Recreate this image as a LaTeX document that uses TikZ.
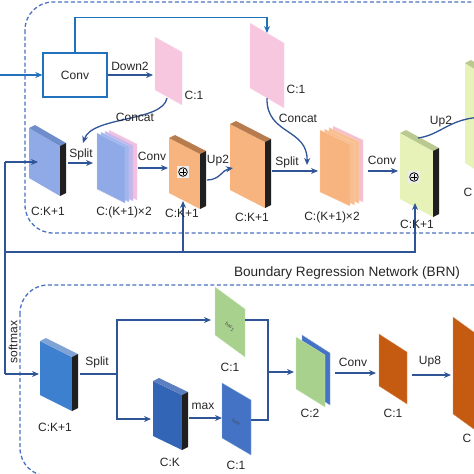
\documentclass[tikz,border=0pt]{standalone}
\usepackage{fontspec}
\setmainfont{Liberation Sans}
\usetikzlibrary{arrows.meta}
\definecolor{ln}{HTML}{2F5597}
\definecolor{cy}{HTML}{2172BA}
\definecolor{dsh}{HTML}{4A72C0}
\definecolor{bluA}{HTML}{8FAAE6}
\definecolor{bluAt}{HTML}{6F8CCB}
\definecolor{bluL}{HTML}{A3B5EE}
\definecolor{lav}{HTML}{C8B5EA}
\definecolor{pk}{HTML}{F1C0E0}
\definecolor{pink}{HTML}{F7C6DF}
\definecolor{orA}{HTML}{F8B47F}
\definecolor{orAt}{HTML}{B87B4E}
\definecolor{orB}{HTML}{F9BE90}
\definecolor{pk2}{HTML}{F4BFCF}
\definecolor{grL}{HTML}{E6F2B8}
\definecolor{grLt}{HTML}{B9C98F}
\definecolor{bbA}{HTML}{3D80D0}
\definecolor{bbAt}{HTML}{7FA3D4}
\definecolor{bbB}{HTML}{3265B5}
\definecolor{bbBt}{HTML}{5B7FC0}
\definecolor{grM}{HTML}{A9D18E}
\definecolor{blM}{HTML}{4472C4}
\definecolor{orD}{HTML}{C55A11}
% slab: name x y w h s front top
\newcommand\slabshape[8]{%
  \fill[#7] (#2,#3) -- ++(#4,#6) -- ++(0,#5) -- ++(-#4,-#6) -- cycle;
  \fill[#8] (#2,#3) -- ++(#4,#6) -- ++(6,-3) -- ++(-#4,-#6) -- cycle;
  \fill[black!88] (#2+#4,#3+#6) -- ++(6,-3) -- ++(0,#5) -- ++(-6,3) -- cycle;
  \coordinate (#1) at (#2+#4/2,#3+#5/2+#6/2);
}
% sheet: name x y w h s colour
\newcommand\sheetshape[7]{%
  \filldraw[fill=#7, draw=white!40!#7, line width=0.3pt] (#2,#3) -- ++(#4,#6) -- ++(0,#5) -- ++(-#4,-#6) -- cycle;
  \coordinate (#1) at (#2+#4/2,#3+#5/2+#6/2);
}
% plus sign: name x y
\newcommand\plussign[3]{%
  \node[fill=white!85!gray, minimum size=12pt, inner sep=0] (#1) at (#2,#3) {};
  \draw[black, line width=0.8pt] (#1) circle[radius=4.3pt];
  \draw[black, line width=0.8pt] (#1.center) ++(-2.6,0) -- ++(5.2,0);
  \draw[black, line width=0.8pt] (#1.center) ++(0,-2.6) -- ++(0,5.2);
}
\begin{document}
\begin{tikzpicture}[x=1pt,y=-1pt,
  arr/.style={ln, line width=1.3pt, -{Stealth[length=7pt,width=6pt]}},
  arrc/.style={cy, line width=1.3pt, -{Stealth[length=7pt,width=6pt]}},
  wire/.style={ln, line width=1.3pt},
  dbox/.style={dsh, line width=1.3pt, dash pattern=on 4pt off 2.5pt, rounded corners=28pt},
  lab/.style={inner sep=0.5pt, font=\fontsize{12}{14}\selectfont, text=black!85},
  tinylab/.style={inner sep=0pt, font=\fontsize{5}{6}\selectfont, text=black!70}]
\useasboundingbox (0,0) rectangle (474,474);
\begin{scope}
\clip (0,0) rectangle (474,474);
% dashed frames
\draw[dbox] (25,2) rectangle (540,233);
\draw[dbox] (20,285) rectangle (540,476);
% ---------- top part ----------
\sheetshape{p1}{155}{37}{27}{53}{15}{pink}
\sheetshape{p2}{250}{23}{34}{65}{20}{pink}
\slabshape{b1}{29}{128}{31}{50}{18}{bluA}{bluAt}
\sheetshape{b2d}{109}{130}{28}{56}{14}{pk}
\sheetshape{b2c}{105}{131}{28}{56}{14}{lav}
\sheetshape{b2b}{101}{132}{28}{56}{14}{bluL}
\sheetshape{b2}{97}{133}{28}{56}{14}{bluA}
\slabshape{b3}{169}{138}{31}{55}{16}{orA}{orAt}
\slabshape{b4}{230}{124}{35}{66}{18}{orA}{orAt}
\sheetshape{b5d}{333}{126}{30}{62}{14}{pk2}
\sheetshape{b5c}{329}{127.5}{30}{62}{14}{orB}
\sheetshape{b5b}{324.5}{129}{30}{62}{14}{orB}
\sheetshape{b5}{320}{130}{30}{62}{14}{orA}
\slabshape{b6}{400}{133}{33}{66}{18}{grL}{grLt}
\slabshape{b7}{465}{63}{40}{100}{25}{grL}{grLt}
\plussign{pl3}{183}{172}
\plussign{pl6}{414}{177}
\node[draw=cy, line width=1.3pt, minimum width=64pt, minimum height=44pt, lab] (conv) at (75,75) {Conv};
% coordinates
\coordinate (inA) at (0,75);
\coordinate (p1w) at (153,75);
\coordinate (p2top) at (267,33);
\coordinate (p1b) at (167,98);
\coordinate (b2top) at (83,143);
\coordinate (p2b) at (267,98);
\coordinate (b5top) at (307,165);
\coordinate (b1e) at (68,163);
\coordinate (b2w) at (93,163);
\coordinate (b2e) at (138,168);
\coordinate (b3w) at (168,168);
\coordinate (b3e) at (207,180);
\coordinate (b4w) at (233,168);
\coordinate (b4e) at (272,171);
\coordinate (b5w) at (318,171);
\coordinate (b5e) at (368,171);
\coordinate (b6w) at (398,171);
\coordinate (b6t) at (418,138);
\coordinate (b7w) at (482,117);
\coordinate (sL) at (5,162);
\coordinate (b1w) at (38,162);
\coordinate (sM) at (5,252);
\coordinate (b3b) at (183,201);
\coordinate (b6b) at (415,203);
\coordinate (sB) at (5,374);
% connectors
\draw[arrc] (inA) -- (conv.west);
\draw[arrc] (conv.north) -- ++(0,-35) -| (p2top);
\draw[arr] (conv.east) -- (p1w);
\draw[arr] (p1b) .. controls (163,122) and (92,116) .. (b2top);
\draw[arr] (p2b) .. controls (266,135) and (308,128) .. (b5top);
\draw[arr] (b1e) -- (b2w);
\draw[arr] (b2e) -- (b3w);
\draw[arr] (b3e) .. controls (220,180) and (222,170) .. (b4w);
\draw[arr] (b4e) -- (b5w);
\draw[arr] (b5e) -- (b6w);
\draw[arr] (b6t) .. controls (440,135) and (448,120) .. (b7w);
\draw[wire] (sL) -- (sB);
\draw[arr] (sL) -- (b1w);
\draw[arr] (sM) -| (b3b);
\draw[arr] (sM) -| (b6b);
% labels
\node[lab] (tdown) at (130,66) {Down2};
\node[lab] (tc1) at (194,95) {C:1};
\node[lab] (tc2) at (296,89) {C:1};
\node[lab] (tcat1) at (135,117) {Concat};
\node[lab] (tcat2) at (298,118) {Concat};
\node[lab] (tsp1) at (81,154) {Split};
\node[lab] (tsp2) at (287,162) {Split};
\node[lab] (tcv1) at (152,156) {Conv};
\node[lab] (tcv2) at (382,160) {Conv};
\node[lab] (tup1) at (218,161) {Up2};
\node[lab] (tup2) at (441,122) {Up2};
\node[lab] (lb1) at (48,211) {C:K+1};
\node[lab] (lb2) at (124,212) {C:(K+1)×2};
\node[lab] (lb3) at (182,213) {C:K+1};
\node[lab] (lb4) at (252,217) {C:K+1};
\node[lab] (lb5) at (332,217) {C:(K+1)×2};
\node[lab] (lb6) at (417,224) {C:K+1};
\node[lab, anchor=west] (lb7) at (463,192) {C};
% ---------- BRN ----------
\node[inner sep=0, font=\fontsize{13.6}{15}\selectfont, text=black!85] (title) at (347,273) {Boundary Regression Network (BRN)};
\slabshape{c1}{40}{341}{32}{54}{16}{bbA}{bbAt}
\slabshape{c2}{153}{381}{29}{55}{14}{bbB}{bbBt}
\sheetshape{bac}{215}{287}{30}{48}{22}{grM}
\sheetshape{fore}{222}{383}{29}{55}{17}{blM}
\sheetshape{c3b}{302}{335}{28}{52}{18}{blM}
\sheetshape{c3}{296}{337}{29}{52}{18}{grM}
\sheetshape{c4}{379}{334}{28}{52}{18}{orD}
\sheetshape{c5}{453}{317}{40}{97}{29}{orD}
\node[tinylab, rotate=-36] (tbac) at (230,327) {bac\textsubscript{1}};
\node[tinylab, rotate=-30] (tfore) at (236,422) {fore};
\coordinate (c1w) at (39,374);
\coordinate (c1e) at (80,374);
\coordinate (sp) at (117,374);
\coordinate (bacw) at (211,320);
\coordinate (c2w) at (151,419);
\coordinate (c2e) at (189,418);
\coordinate (forew) at (222,418);
\coordinate (bace) at (245,320);
\coordinate (foree) at (251,420);
\coordinate (jn) at (268,372);
\coordinate (c3w) at (294,372);
\coordinate (c3e) at (335,373);
\coordinate (c4w) at (376,373);
\coordinate (c4e) at (412,375);
\coordinate (c5w) at (451,375);
\draw[arr] (sB) -- (c1w);
\draw[wire] (c1e) -- (sp);
\draw[arr] (sp) |- (bacw);
\draw[arr] (sp) |- (c2w);
\draw[arr] (c2e) -- (forew);
\draw[wire] (bace) -| (jn) |- (foree);
\draw[arr] (jn) -- (c3w);
\draw[arr] (c3e) -- (c4w);
\draw[arr] (c4e) -- (c5w);
\node[lab, rotate=90] (tsoft) at (13,342) {softmax};
\node[lab] (tsp3) at (97,362) {Split};
\node[lab] (tmax) at (203,406) {max};
\node[lab] (tcv3) at (353,362) {Conv};
\node[lab] (tup8) at (430,362) {Up8};
\node[lab] (lc1) at (55,427) {C:K+1};
\node[lab] (lc2) at (170,462) {C:K};
\node[lab] (lbac) at (230,367) {C:1};
\node[lab] (lfore) at (236,465) {C:1};
\node[lab] (lc3) at (310,413) {C:2};
\node[lab] (lc4) at (393,413) {C:1};
\node[lab, anchor=west] (lc5) at (462,438) {C};
\end{scope}
\end{tikzpicture}
\end{document}
